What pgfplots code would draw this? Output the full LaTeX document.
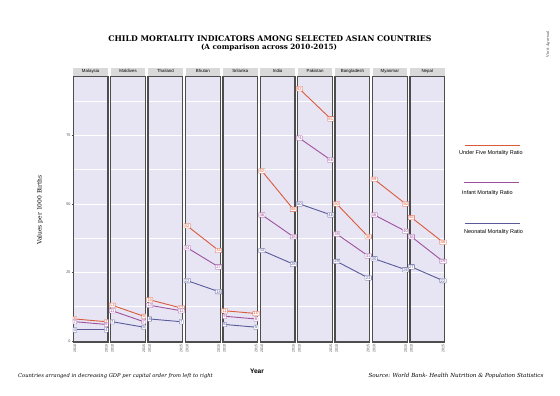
\documentclass[border=0pt]{standalone}
\usepackage{pgfplots}
\pgfplotsset{compat=1.18}
\usepackage{fontspec}
\setmainfont{Liberation Sans}
\newfontfamily\serif{DejaVu Serif}
\definecolor{uf}{HTML}{DC5A3C}
\definecolor{im}{HTML}{A0509E}
\definecolor{nm}{HTML}{585A9A}
\definecolor{bgp}{HTML}{E7E5F3}
\definecolor{strip}{HTML}{D9D9D9}
\definecolor{frame}{HTML}{4D4D4D}
\newcommand{\fs}[1]{\fontsize{#1}{#1}\selectfont}
\tikzset{stripnode/.style={anchor=south, fill=strip, minimum width=34.7pt, minimum height=7.6pt, inner sep=0pt, text height=3.2pt, text depth=0.9pt, font=\fs{4.4}, yshift=0.9pt}}
\pgfplotsset{
  panel/.style={
    scale only axis, width=34.7pt, height=265.3pt, anchor=south west,
    xmin=2009.75, xmax=2015.25, ymin=-0.4, ymax=96.4,
    /pgf/number format/assume math mode=true,
    /pgf/number format/1000 sep={},
    axis background/.style={fill=bgp},
    axis line style={draw=frame, line width=1.3pt},
    xtick={2010,2015}, xticklabels={2010,2015}, ytick={0,25,50,75},
    minor ytick={12.5,37.5,62.5,87.5},
    xtick pos=bottom, ytick pos=left,
    ymajorgrids, yminorgrids,
    major grid style={white, line width=0.7pt},
    minor grid style={white, line width=0.35pt},
    tick align=outside, major tick length=1.5pt, minor tick length=0pt,
    tick style={frame, line width=0.4pt},
    y tick style={draw=none},
    xticklabel style={rotate=90, anchor=east, font=\fs{3.6}, text=black!70, inner sep=1pt},
    yticklabel style={font=\fs{3.8}, text=black!70, inner sep=1pt},
    yticklabels={},
    clip=false,
    nodes near coords={\pgfmathprintnumber[fixed,precision=0]{\pgfplotspointmeta}},
    every node near coord/.append style={anchor=center, fill=white, inner sep=0.8pt, font=\fs{4.2}, rounded corners=0.3pt, line width=0.3pt},
  },
  u5/.style={uf, line width=0.9pt, mark=none, every node near coord/.append style={draw=uf, text=uf}},
  i5/.style={im, line width=0.9pt, mark=none, every node near coord/.append style={draw=im, text=im}},
  n5/.style={nm, line width=0.9pt, mark=none, every node near coord/.append style={draw=nm, text=nm}},
}
\begin{document}
\begin{tikzpicture}[x=1pt,y=1pt]
\useasboundingbox[fill=white] (0,0) rectangle (560,396);
% panels
\begin{axis}[panel, at={(73.3pt,54pt)}, yticklabels={0,25,50,75}, y tick style={draw=frame}]
\addplot[u5] coordinates {(2010,8) (2015,7)};
\addplot[i5] coordinates {(2010,7) (2015,6)};
\addplot[n5] coordinates {(2010,4) (2015,4)};
\node[stripnode] at (rel axis cs:0.5,1) {Malaysia};
\end{axis}
\begin{axis}[panel, at={(110.7pt,54pt)}]
\addplot[u5] coordinates {(2010,13) (2015,9)};
\addplot[i5] coordinates {(2010,11) (2015,7)};
\addplot[n5] coordinates {(2010,7) (2015,5)};
\node[stripnode] at (rel axis cs:0.5,1) {Maldives};
\end{axis}
\begin{axis}[panel, at={(148.1pt,54pt)}]
\addplot[u5] coordinates {(2010,15) (2015,12)};
\addplot[i5] coordinates {(2010,13) (2015,11)};
\addplot[n5] coordinates {(2010,8) (2015,7)};
\node[stripnode] at (rel axis cs:0.5,1) {Thailand};
\end{axis}
\begin{axis}[panel, at={(185.5pt,54pt)}]
\addplot[u5] coordinates {(2010,42) (2015,33)};
\addplot[i5] coordinates {(2010,34) (2015,27)};
\addplot[n5] coordinates {(2010,22) (2015,18)};
\node[stripnode] at (rel axis cs:0.5,1) {Bhutan};
\end{axis}
\begin{axis}[panel, at={(222.9pt,54pt)}]
\addplot[u5] coordinates {(2010,11) (2015,10)};
\addplot[i5] coordinates {(2010,9) (2015,8)};
\addplot[n5] coordinates {(2010,6) (2015,5)};
\node[stripnode] at (rel axis cs:0.5,1) {Srilanka};
\end{axis}
\begin{axis}[panel, at={(260.3pt,54pt)}]
\addplot[u5] coordinates {(2010,62) (2015,48)};
\addplot[i5] coordinates {(2010,46) (2015,38)};
\addplot[n5] coordinates {(2010,33) (2015,28)};
\node[stripnode] at (rel axis cs:0.5,1) {India};
\end{axis}
\begin{axis}[panel, at={(297.7pt,54pt)}]
\addplot[u5] coordinates {(2010,92) (2015,81)};
\addplot[i5] coordinates {(2010,74) (2015,66)};
\addplot[n5] coordinates {(2010,50) (2015,46)};
\node[stripnode] at (rel axis cs:0.5,1) {Pakistan};
\end{axis}
\begin{axis}[panel, at={(335.1pt,54pt)}]
\addplot[u5] coordinates {(2010,50) (2015,38)};
\addplot[i5] coordinates {(2010,39) (2015,31)};
\addplot[n5] coordinates {(2010,29) (2015,23)};
\node[stripnode] at (rel axis cs:0.5,1) {Bangladesh};
\end{axis}
\begin{axis}[panel, at={(372.5pt,54pt)}]
\addplot[u5] coordinates {(2010,59) (2015,50)};
\addplot[i5] coordinates {(2010,46) (2015,40)};
\addplot[n5] coordinates {(2010,30) (2015,26)};
\node[stripnode] at (rel axis cs:0.5,1) {Myanmar};
\end{axis}
\begin{axis}[panel, at={(409.9pt,54pt)}]
\addplot[u5] coordinates {(2010,45) (2015,36)};
\addplot[i5] coordinates {(2010,38) (2015,29)};
\addplot[n5] coordinates {(2010,27) (2015,22)};
\node[stripnode] at (rel axis cs:0.5,1) {Nepal};
\end{axis}
% titles
\node[font=\serif\bfseries\fs{7.8}] at (270,357) {CHILD MORTALITY INDICATORS AMONG SELECTED ASIAN COUNTRIES};
\node[font=\serif\bfseries\fs{7.2}] at (269,348.5) {(A comparison across 2010-2015)};
\node[font=\serif\fs{6}, rotate=90] at (40,186) {Values per 1000 Births};
\node[font=\bfseries\fs{6.6}] at (257,25) {Year};
\node[font=\serif\itshape\fs{5.2}] at (115.5,20) {Countries arranged in decreasing GDP per capital order from left to right};
\node[font=\serif\itshape\fs{5.6}] at (456,20) {Source: World Bank- Health Nutrition \& Population Statistics};
\node[font=\serif\itshape\fs{3.8}, rotate=90, text=black!70] at (548,352) {Vinit Agarwal};
% legend
\draw[uf, line width=0.9pt] (465,250.3) -- (520,250.3);
\node[anchor=west, font=\fs{5.5}, inner sep=0] at (459,243) {Under Five Mortality Ratio};
\draw[im, line width=0.9pt] (464,213.3) -- (519,213.3);
\node[anchor=west, font=\fs{5.5}, inner sep=0] at (462,203) {Infant Mortality Ratio};
\draw[nm, line width=0.9pt] (465,173) -- (520,173);
\node[anchor=west, font=\fs{5.5}, inner sep=0] at (464,164) {Neonatal Mortality Ratio};
\end{tikzpicture}
\end{document}
